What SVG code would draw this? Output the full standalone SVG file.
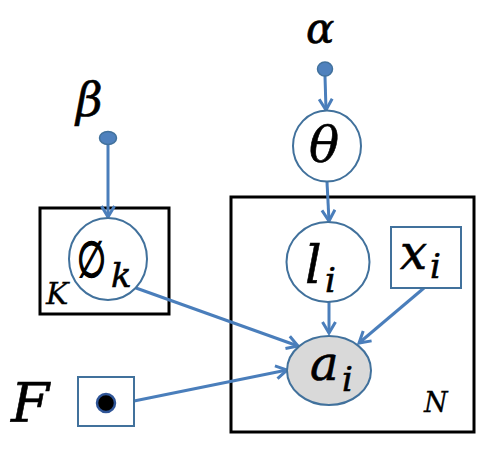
<svg xmlns="http://www.w3.org/2000/svg" width="495" height="450" viewBox="0 0 495 450">
<style>
.node{fill:#ffffff;stroke:#41719c;stroke-width:2}
.plate{fill:none;stroke:#000000;stroke-width:3}
.edge{stroke:#4a7ebb;stroke-width:3;fill:none}
.m{font-family:"DejaVu Serif",serif;font-style:italic;fill:#000;stroke:#000;stroke-width:0.6}
.dot{fill:#4f81bd;stroke:#41719c;stroke-width:1.5}
</style>
<defs>
<marker id="arr" markerUnits="userSpaceOnUse" markerWidth="16" markerHeight="16" viewBox="0 0 16 16" refX="13" refY="8" orient="auto">
<path d="M2,1.5 L13,8 L2,14.5" fill="none" stroke="#4a7ebb" stroke-width="3" stroke-linejoin="miter"/>
</marker>
</defs>
<rect width="495" height="450" fill="#ffffff"/>
<g id="plates">
<rect id="plate-K" class="plate" x="40" y="208" width="129" height="106"/>
<rect id="plate-N" class="plate" x="231" y="197" width="243" height="235"/>
<text class="m" x="46" y="304" font-size="30" style="stroke-width:0.3">K</text>
<text class="m" x="424" y="412" font-size="27" style="stroke-width:0.3">N</text>
</g>
<g id="connectors">
<line class="edge" x1="325" y1="76" x2="326" y2="110" marker-end="url(#arr)"/>
<line class="edge" x1="327" y1="182" x2="329" y2="221" marker-end="url(#arr)"/>
<line class="edge" x1="108" y1="144" x2="108" y2="217" marker-end="url(#arr)"/>
<line class="edge" x1="329" y1="302" x2="329" y2="333" marker-end="url(#arr)"/>
<line class="edge" x1="424" y1="288" x2="359" y2="343" marker-end="url(#arr)"/>
<line class="edge" x1="136" y1="288" x2="298" y2="346" marker-end="url(#arr)"/>
<line class="edge" x1="134" y1="401" x2="287" y2="370" marker-end="url(#arr)"/>
</g>
<g id="alpha">
<text class="m" x="306" y="43" font-size="42">α</text>
<ellipse class="dot" cx="325" cy="69" rx="7.5" ry="7"/>
</g>
<g id="beta">
<text class="m" x="76" y="116" font-size="46">β</text>
<ellipse class="dot" cx="108" cy="138" rx="8.5" ry="6.5"/>
</g>
<g id="theta">
<ellipse class="node" cx="327" cy="146" rx="34" ry="35.5"/>
<text class="m" x="309" y="162" font-size="50">θ</text>
</g>
<g id="phi">
<ellipse class="node" cx="108" cy="259" rx="39" ry="41"/>
<text transform="translate(77,277) scale(0.9,1.35)" font-size="37" font-family="DejaVu Serif, serif" stroke="#000" stroke-width="1.2">∅</text>
<text class="m" x="111" y="287" font-size="34">k</text>
</g>
<g id="l">
<ellipse class="node" cx="328" cy="262" rx="41.5" ry="40"/>
<text class="m" x="305" y="283" font-size="52">l</text>
<text class="m" x="325" y="292" font-size="34">i</text>
</g>
<g id="x">
<rect class="node" x="391" y="227" width="70" height="61"/>
<text class="m" x="400" y="269" font-size="48">x</text>
<text class="m" x="430" y="278" font-size="34">i</text>
</g>
<g id="a">
<ellipse class="node" cx="329" cy="370.5" rx="42" ry="34.5" style="fill:#d9d9d9"/>
<text class="m" x="310" y="380" font-size="48">a</text>
<text class="m" x="342" y="391" font-size="34">i</text>
</g>
<g id="F">
<text class="m" x="11" y="422" font-size="55">F</text>
<rect class="node" x="78" y="377" width="56" height="49"/>
<circle cx="106" cy="403" r="9" fill="#000000" stroke="#2f5597" stroke-width="2.5"/>
</g>
</svg>
